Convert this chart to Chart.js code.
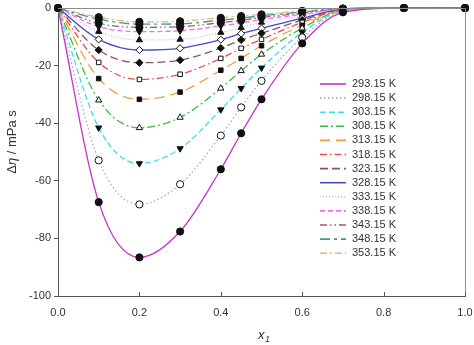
<!DOCTYPE html>
<html lang="en">
<head>
    <meta charset="UTF-8">
    <title>Viscosity deviation</title>
    <script src="https://cdn.jsdelivr.net/npm/chart.js"></script>
    <style>
        html, body { margin: 0; padding: 0; background: #fff; }
        #wrap { width: 474px; height: 345px; }
    </style>
</head>
<body>
    <div id="wrap"><canvas id="etaChart"></canvas></div>

    <script>
        // mole fraction x1
        const xValues = [0, 0.1, 0.2, 0.3, 0.4, 0.45, 0.5, 0.6, 0.7, 0.85, 1.0];

        // delta eta (mPa s), one array per temperature
        const t29315 = [0, -67.4, -86.6, -77.6, -56.0, -43.5, -31.7, -12.3, -1.5, 0, 0];
        const t29815 = [0, -52.9, -68.2, -61.2, -44.3, -34.5, -25.3, -10.2, -1.2, 0, 0];
        const t30315 = [0, -41.6, -54.0, -48.8, -35.3, -27.9, -20.8, -8.5, -1.0, 0, 0];
        const t30815 = [0, -32.0, -41.6, -38.0, -27.9, -21.8, -16.1, -7.0, -0.9, 0, 0];
        const t31315 = [0, -24.5, -31.7, -29.2, -21.6, -17.5, -13.1, -6.0, -0.8, 0, 0];
        const t31815 = [0, -18.9, -24.8, -23.0, -17.5, -14.0, -10.9, -5.0, -0.7, 0, 0];
        const t32315 = [0, -14.6, -19.0, -18.1, -13.9, -11.1, -8.8, -4.2, -0.6, 0, 0];
        const t32815 = [0, -10.9, -14.6, -14.0, -11.0, -8.9, -7.1, -3.5, -0.5, 0, 0];
        const t33315 = [0, -8.2, -11.1, -10.9, -8.5, -6.8, -5.0, -2.8, -0.4, 0, 0];
        const t33815 = [0, -6.5, -8.2, -7.9, -6.2, -5.2, -4.0, -2.2, -0.3, 0, 0];
        const t34315 = [0, -5.3, -6.7, -6.5, -5.1, -4.3, -3.3, -1.8, -0.3, 0, 0];
        const t34815 = [0, -3.9, -5.6, -5.5, -4.2, -3.5, -2.7, -1.4, -0.2, 0, 0];
        const t35315 = [0, -3.2, -4.8, -4.6, -3.4, -2.8, -2.2, -1.0, -0.2, 0, 0];

        const labels = ['293.15 K', '298.15 K', '303.15 K', '308.15 K', '313.15 K', '318.15 K', '323.15 K',
                        '328.15 K', '333.15 K', '338.15 K', '343.15 K', '348.15 K', '353.15 K'];
        const series = [t29315, t29815, t30315, t30815, t31315, t31815, t32315,
                        t32815, t33315, t33815, t34315, t34815, t35315];

        const xTicks = [0, 0.2, 0.4, 0.6, 0.8, 1.0];
        const yTicks = [0, -20, -40, -60, -80, -100];

        // styles
        const lineColors = ['#c832c8', '#a8a8c8', '#3ee0e0', '#3cbc3c', '#f89a3a', '#f04a4a', '#8c5656',
                            '#4848d0', '#a8c4f0', '#ec70ec', '#a05a78', '#34a08a', '#f0b474'];
        const dashes = [[], [1.5, 2.5], [6, 3], [8, 3, 2, 3], [10, 6], [7, 3, 1.5, 3], [8, 4],
                        [], [1, 2], [5, 3], [7, 3, 1.5, 3, 1.5, 3], [10, 4, 3, 4], [7, 3, 2, 3]];
        const shapes = ['circle', 'circle', 'triangle', 'triangle', 'rect', 'rect', 'rectRot',
                        'rectRot', 'triangle', 'triangle', 'circle', 'circle', 'circle'];
        const rotations = [0, 0, 180, 0, 0, 0, 0, 0, 0, 180, 0, 0, 0];
        const filled = [true, false, true, false, true, false, true, false, true, true, true, true, true];

        const datasets = series.map((vals, i) => ({
            label: labels[i],
            data: vals.map((v, k) => ({ x: xValues[k], y: v })),
            borderColor: lineColors[i],
            borderWidth: 1.3,
            borderDash: dashes[i],
            cubicInterpolationMode: 'monotone',
            fill: false,
            clip: false,
            pointStyle: shapes[i],
            rotation: rotations[i],
            pointRadius: shapes[i] === 'rect' ? 3.2 : 3.6,
            pointBorderColor: '#111',
            pointBorderWidth: 1,
            pointBackgroundColor: filled[i] ? '#111' : '#fff'
        }));

        // frame, inward x ticks, legend and axis titles
        const decorations = {
            id: 'decorations',
            afterDraw(chart) {
                const { ctx, chartArea: a, scales: { x } } = chart;
                ctx.save();
                ctx.strokeStyle = '#8c8c8c';
                ctx.lineWidth = 1;
                ctx.beginPath();
                ctx.moveTo(a.left, a.top + 0.5);
                ctx.lineTo(a.right + 0.5, a.top + 0.5);
                ctx.lineTo(a.right + 0.5, a.bottom);
                ctx.stroke();

                ctx.strokeStyle = '#555';
                xTicks.forEach(v => {
                    const px = Math.round(x.getPixelForValue(v)) + 0.5;
                    ctx.beginPath();
                    ctx.moveTo(px, a.bottom);
                    ctx.lineTo(px, a.bottom - 4);
                    ctx.stroke();
                });

                // legend
                ctx.font = '11px "Liberation Sans", Arial, sans-serif';
                ctx.textBaseline = 'middle';
                ctx.textAlign = 'left';
                labels.forEach((lab, i) => {
                    const yy = 84 + i * 14.1;
                    ctx.strokeStyle = lineColors[i];
                    ctx.lineWidth = 1.6;
                    ctx.setLineDash(dashes[i]);
                    ctx.beginPath();
                    ctx.moveTo(320, yy);
                    ctx.lineTo(346, yy);
                    ctx.stroke();
                    ctx.setLineDash([]);
                    ctx.fillStyle = '#333';
                    ctx.fillText(lab, 352, yy);
                });

                // y title: Δη / mPa s
                const reg = '13px "Liberation Sans", Arial, sans-serif';
                const ita = 'italic 13px "Liberation Sans", Arial, sans-serif';
                ctx.save();
                ctx.translate(12, 142);
                ctx.rotate(-Math.PI / 2);
                ctx.font = reg;
                const w1 = ctx.measureText('Δ').width;
                const w3 = ctx.measureText(' / mPa s').width;
                ctx.font = ita;
                const w2 = ctx.measureText('η').width;
                const sx = -(w1 + w2 + w3) / 2;
                ctx.fillStyle = '#333';
                ctx.font = reg;
                ctx.fillText('Δ', sx, 0);
                ctx.font = ita;
                ctx.fillText('η', sx + w1, 0);
                ctx.font = reg;
                ctx.fillText(' / mPa s', sx + w1 + w2, 0);
                ctx.restore();

                // x title: x1
                ctx.fillStyle = '#333';
                ctx.font = 'italic 13px "Liberation Sans", Arial, sans-serif';
                ctx.fillText('x', 258, 335);
                ctx.font = 'italic 9px "Liberation Sans", Arial, sans-serif';
                ctx.fillText('1', 265, 339);
                ctx.restore();
            }
        };

        new Chart(document.getElementById('etaChart'), {
            type: 'line',
            data: { datasets: datasets },
            options: {
                responsive: true,
                maintainAspectRatio: false,
                animation: false,
                layout: { padding: { top: 8, right: 9, left: 0, bottom: 0 } },
                plugins: {
                    legend: { display: false },
                    tooltip: { enabled: false }
                },
                scales: {
                    x: {
                        type: 'linear',
                        min: 0,
                        max: 1,
                        afterFit: s => { s.height = 49; s.paddingLeft = 0; s.paddingRight = 0; },
                        afterBuildTicks: s => { s.ticks = xTicks.map(v => ({ value: v })); },
                        grid: { display: false, drawTicks: false },
                        border: { color: '#555', width: 1 },
                        ticks: {
                            padding: 10,
                            color: '#333',
                            font: { family: '"Liberation Sans", Arial, sans-serif', size: 11 },
                            callback: v => v.toFixed(1)
                        }
                    },
                    y: {
                        min: -100,
                        max: 0,
                        afterFit: s => { s.width = 58; s.paddingTop = 0; s.paddingBottom = 0; },
                        afterBuildTicks: s => { s.ticks = yTicks.map(v => ({ value: v })); },
                        grid: { drawOnChartArea: false, tickLength: 4, color: '#555' },
                        border: { color: '#555', width: 1 },
                        ticks: {
                            padding: 3,
                            color: '#333',
                            font: { family: '"Liberation Sans", Arial, sans-serif', size: 11 }
                        }
                    }
                }
            },
            plugins: [decorations]
        });
    </script>
</body>
</html>
